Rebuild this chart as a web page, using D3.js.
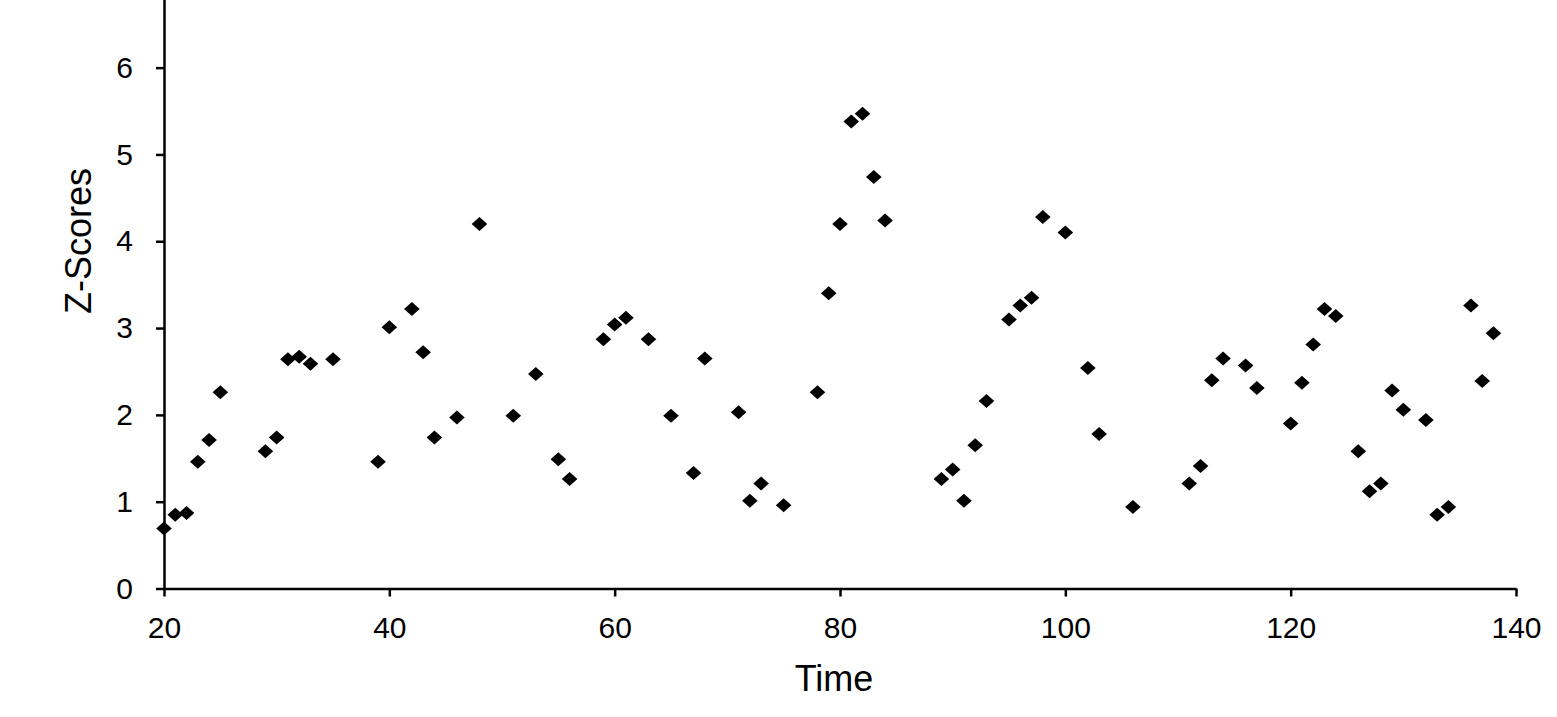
<!DOCTYPE html>
<html>
<head>
<meta charset="utf-8">
<script src="https://cdn.jsdelivr.net/npm/d3@7"></script>
<style>
  html, body { margin: 0; padding: 0; background: #fff; }
  svg { display: block; }
  text { font-family: "Liberation Sans", Arial, sans-serif; fill: #000; }
</style>
</head>
<body>
<div id="container"></div>
<script>
// values
const times = [20, 21, 22, 23, 24, 25, 29, 30, 31, 32, 33, 35, 39, 40, 42, 43, 44, 46, 48,
  51, 53, 55, 56, 59, 60, 61, 63, 65, 67, 68, 71, 72, 73, 75, 78, 79, 80, 81, 82, 83, 84,
  89, 90, 91, 92, 93, 95, 96, 97, 98, 100, 102, 103, 106, 111, 112, 113, 114, 116, 117,
  120, 121, 122, 123, 124, 126, 127, 128, 129, 130, 132, 133, 134, 136, 137, 138];
const zScores = [0.69, 0.85, 0.87, 1.46, 1.71, 2.26, 1.58, 1.74, 2.64, 2.67, 2.59, 2.64, 1.46, 3.01, 3.22, 2.72, 1.74, 1.97, 4.20,
  1.99, 2.47, 1.49, 1.26, 2.87, 3.04, 3.12, 2.87, 1.99, 1.33, 2.65, 2.03, 1.01, 1.21, 0.96, 2.26, 3.40, 4.20, 5.38, 5.47, 4.74, 4.24,
  1.26, 1.37, 1.01, 1.65, 2.16, 3.10, 3.26, 3.35, 4.28, 4.10, 2.54, 1.78, 0.94, 1.21, 1.41, 2.40, 2.65, 2.57, 2.31,
  1.90, 2.37, 2.81, 3.22, 3.14, 1.58, 1.12, 1.21, 2.28, 2.06, 1.94, 0.85, 0.94, 3.26, 2.39, 2.94];
const xTicks = [20, 40, 60, 80, 100, 120, 140];
const yTicks = [0, 1, 2, 3, 4, 5, 6];

const w = 1557;
const h = 717;

const svg = d3
  .select("#container")
  .append("svg")
  .attr("width", w)
  .attr("height", h)
  .attr("viewBox", `0 0 ${w} ${h}`);

const dataset = times.map((t, i) => [t, zScores[i]]);

const xScale = d3.scaleLinear().domain([20, 140]).range([164, 1516]);
// plot runs above the top edge of the picture (axis is cut off there)
const yScale = d3.scaleLinear().domain([0, 8]).range([588.5, -106]);

const xAxis = d3
  .axisBottom(xScale)
  .tickValues(xTicks)
  .tickSize(8)
  .tickSizeOuter(0)
  .tickPadding(20);

const yAxis = d3
  .axisLeft(yScale)
  .tickValues(yTicks)
  .tickSize(8)
  .tickSizeOuter(0)
  .tickPadding(23);

svg
  .append("g")
  .attr("id", "y-axis")
  .attr("transform", `translate(${xScale(20)}, 0)`)
  .call(yAxis);

svg
  .append("g")
  .attr("id", "x-axis")
  .attr("transform", `translate(0, ${yScale(0)})`)
  .call(xAxis);

svg.selectAll(".domain, .tick line")
  .attr("stroke", "#000")
  .attr("stroke-width", 2.5);

svg.selectAll(".tick text")
  .attr("font-size", 30)
  .style("font-family", '"Liberation Sans", Arial, sans-serif')
  .attr("fill", "#000");

// diamond marker, a touch wider than tall
const diamond = {
  draw(ctx, size) {
    const rx = 7.8, ry = 7;
    ctx.moveTo(0, -ry);
    ctx.lineTo(rx, 0);
    ctx.lineTo(0, ry);
    ctx.lineTo(-rx, 0);
    ctx.closePath();
  },
};

svg
  .append("g")
  .selectAll("path")
  .data(dataset)
  .enter()
  .append("path")
  .attr("class", "point")
  .attr("d", d3.symbol().type(diamond))
  .attr("transform", (d) => `translate(${xScale(d[0])}, ${yScale(d[1])})`)
  .attr("fill", "#000");

svg
  .append("text")
  .attr("x", 834)
  .attr("y", 691)
  .attr("text-anchor", "middle")
  .attr("font-size", 36)
  .text("Time");

svg
  .append("text")
  .attr("text-anchor", "middle")
  .attr("transform", `translate(91, 241) rotate(-90)`)
  .attr("font-size", 36)
  .text("Z-Scores");
</script>
</body>
</html>
